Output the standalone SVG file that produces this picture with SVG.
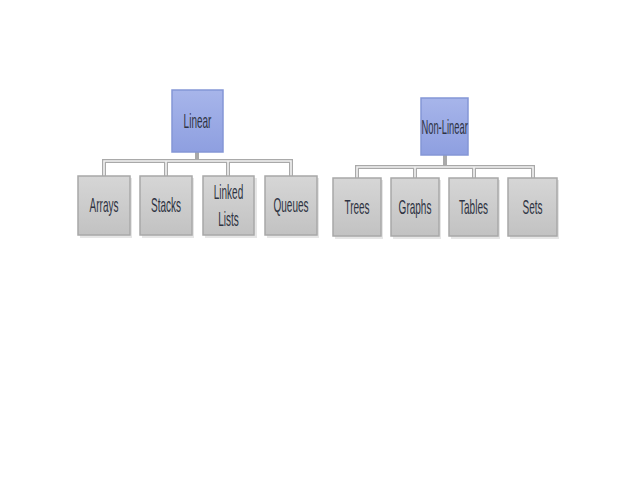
<svg xmlns="http://www.w3.org/2000/svg" width="638" height="478" viewBox="0 0 638 478">
<defs>
<linearGradient id="gb" x1="0" y1="0" x2="0" y2="1"><stop offset="0" stop-color="#a7b5ea"/><stop offset="1" stop-color="#8e9fe0"/></linearGradient>
<linearGradient id="gg" x1="0" y1="0" x2="0" y2="1"><stop offset="0" stop-color="#d6d6d6"/><stop offset="1" stop-color="#c2c2c2"/></linearGradient>
</defs>
<style>
.p{fill:url(#gb);stroke:#8496d6;stroke-width:1.5}
.c{fill:url(#gg);stroke:#a8a8a8;stroke-width:1.5}
.s{fill:#e6e6e6}
text{font-family:"Liberation Sans",Arial,sans-serif;font-size:20px;fill:#2e3342;text-anchor:middle}
.o{stroke:#a9a9a9;stroke-width:4;fill:none}
.i{stroke:#f2f2f2;stroke-width:1.6;fill:none}
</style>
<rect width="638" height="478" fill="#ffffff"/>
<g id="connectors">
<path class="o" d="M197 152V161M104 176V161H291V176M166 161V176M228 161V176M445 155V167M357 178V167H533V178M415 167V178M474 167V178"/>
<path class="i" d="M104 176V161H291V176M166 161V176M228 161V176M357 178V167H533V178M415 167V178M474 167V178"/>
</g>
<g id="linear"><rect class="p" x="172" y="90" width="51" height="62"/><text transform="scale(0.5,1)" x="395" y="128">Linear</text></g>
<g id="arrays"><rect class="s" x="80" y="178" width="52" height="60"/><rect class="c" x="78" y="176" width="52" height="59"/><text transform="scale(0.5,1)" x="208" y="212">Arrays</text></g>
<g id="stacks"><rect class="s" x="142" y="178" width="52" height="60"/><rect class="c" x="140" y="176" width="52" height="59"/><text transform="scale(0.5,1)" x="332" y="212">Stacks</text></g>
<g id="linked-lists"><rect class="s" x="205" y="178" width="52" height="60"/><rect class="c" x="203" y="176" width="51" height="59"/><text transform="scale(0.5,1)" x="457" y="199">Linked</text><text transform="scale(0.5,1)" x="457" y="226">Lists</text></g>
<g id="queues"><rect class="s" x="267" y="178" width="52" height="60"/><rect class="c" x="265" y="176" width="52" height="59"/><text transform="scale(0.5,1)" x="582" y="212">Queues</text></g>
<g id="non-linear"><rect class="p" x="421" y="98" width="47" height="57"/><text transform="scale(0.47,1)" x="946" y="134">Non-Linear</text></g>
<g id="trees"><rect class="s" x="335" y="180" width="48" height="59"/><rect class="c" x="333" y="178" width="48" height="58"/><text transform="scale(0.5,1)" x="714" y="214">Trees</text></g>
<g id="graphs"><rect class="s" x="393" y="180" width="48" height="59"/><rect class="c" x="391" y="178" width="48" height="58"/><text transform="scale(0.5,1)" x="830" y="214">Graphs</text></g>
<g id="tables"><rect class="s" x="451" y="180" width="49" height="59"/><rect class="c" x="449" y="178" width="49" height="58"/><text transform="scale(0.5,1)" x="947" y="214">Tables</text></g>
<g id="sets"><rect class="s" x="510" y="180" width="49" height="59"/><rect class="c" x="508" y="178" width="49" height="58"/><text transform="scale(0.5,1)" x="1065" y="214">Sets</text></g>
</svg>
